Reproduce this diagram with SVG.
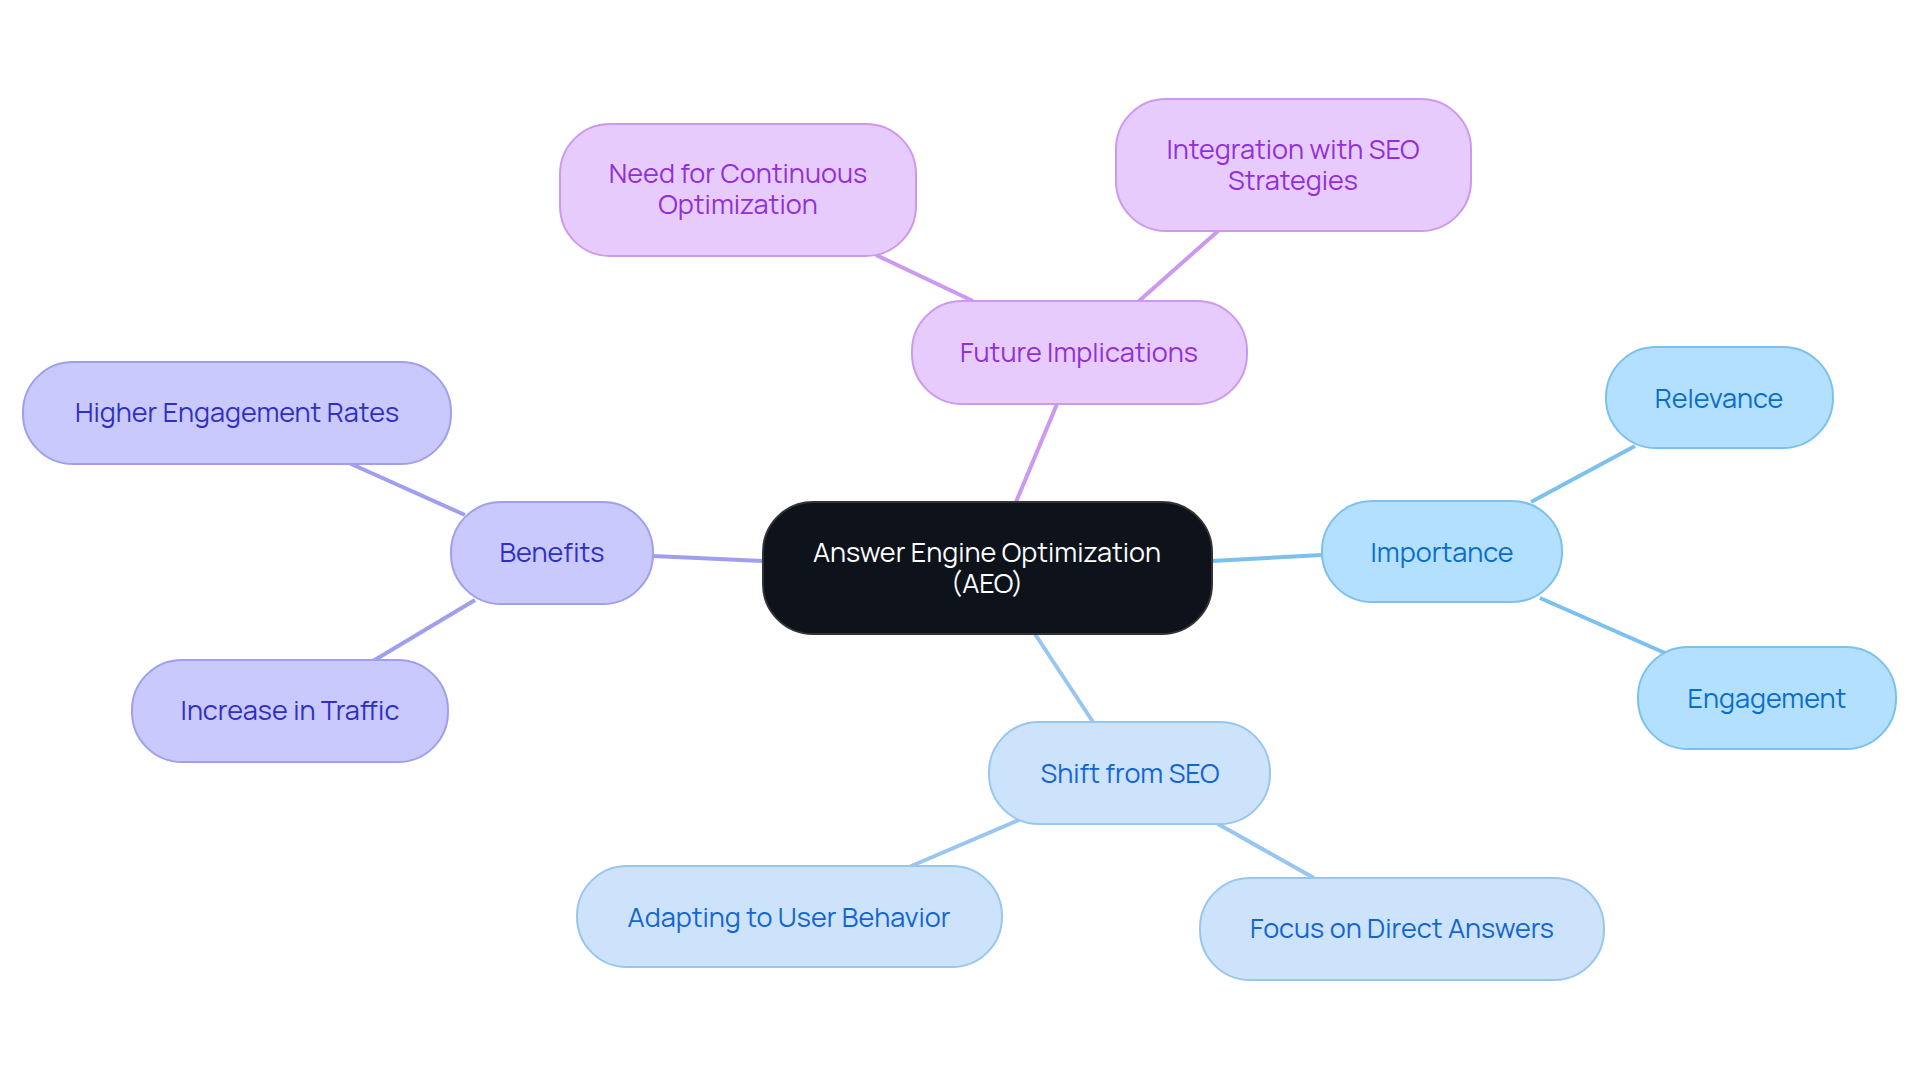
<svg xmlns="http://www.w3.org/2000/svg" width="1920" height="1083" viewBox="0 0 1920 1083">
<style>
text{font-family:Manrope,Inter,"Noto Sans",sans-serif;font-size:27px;text-anchor:middle;dominant-baseline:central}
.e{fill:none;stroke-width:4}
.a rect{fill:#b3e0ff;stroke:#7cc0f0;stroke-width:2}.a text{fill:#0a6ec8}
.b rect{fill:#cce3fb;stroke:#99c6f0;stroke-width:2}.b text{fill:#1565d0}
.c rect{fill:#c9c9fd;stroke:#9f9fee;stroke-width:2}.c text{fill:#3030c0}
.d rect{fill:#e8cbfd;stroke:#cc99f0;stroke-width:2}.d text{fill:#9030d8}
</style>
<rect width="1920" height="1083" fill="#fff"/>
<g id="edges">
<path class="e" stroke="#7cc0f0" d="M1212,561L1322,555M1531,502L1635,446M1540,598L1665,653"/>
<path class="e" stroke="#99c6f0" d="M1035,634L1093,722M1019,820L909,867M1218,824L1314,878"/>
<path class="e" stroke="#9f9fee" d="M763,561L653,556M465,515L349,463M475,600L373,661"/>
<path class="e" stroke="#cc99f0" d="M1016,502L1057,404M973,301L876,255M1139,301L1218,231"/>
</g>
<g id="center"><rect x="763" y="502" width="449" height="132" rx="50" fill="#0d121b" stroke="#333" stroke-width="2"/><text x="987" y="551" fill="#fff">Answer Engine Optimization</text><text x="987" y="582" fill="#fff">(AEO)</text></g>
<g id="importance" class="a"><rect x="1322" y="501" width="240" height="101" rx="50"/><text x="1442" y="551">Importance</text></g>
<g id="relevance" class="a"><rect x="1606" y="347" width="227" height="101" rx="50"/><text x="1719" y="397">Relevance</text></g>
<g id="engagement" class="a"><rect x="1638" y="647" width="258" height="102" rx="50"/><text x="1767" y="697">Engagement</text></g>
<g id="shift" class="b"><rect x="989" y="722" width="281" height="102" rx="50"/><text x="1130" y="772">Shift from SEO</text></g>
<g id="adapting" class="b"><rect x="577" y="866" width="425" height="101" rx="50"/><text x="789" y="916">Adapting to User Behavior</text></g>
<g id="focus" class="b"><rect x="1200" y="878" width="404" height="102" rx="50"/><text x="1402" y="927">Focus on Direct Answers</text></g>
<g id="benefits" class="c"><rect x="451" y="502" width="202" height="102" rx="50"/><text x="552" y="551">Benefits</text></g>
<g id="higher" class="c"><rect x="23" y="362" width="428" height="102" rx="50"/><text x="237" y="411">Higher Engagement Rates</text></g>
<g id="increase" class="c"><rect x="132" y="660" width="316" height="102" rx="50"/><text x="290" y="709">Increase in Traffic</text></g>
<g id="future" class="d"><rect x="912" y="301" width="335" height="103" rx="50"/><text x="1079" y="351">Future Implications</text></g>
<g id="need" class="d"><rect x="560" y="124" width="356" height="132" rx="50"/><text x="738" y="172">Need for Continuous</text><text x="738" y="203">Optimization</text></g>
<g id="integration" class="d"><rect x="1116" y="99" width="355" height="132" rx="50"/><text x="1293" y="148">Integration with SEO</text><text x="1293" y="179">Strategies</text></g>
</svg>
